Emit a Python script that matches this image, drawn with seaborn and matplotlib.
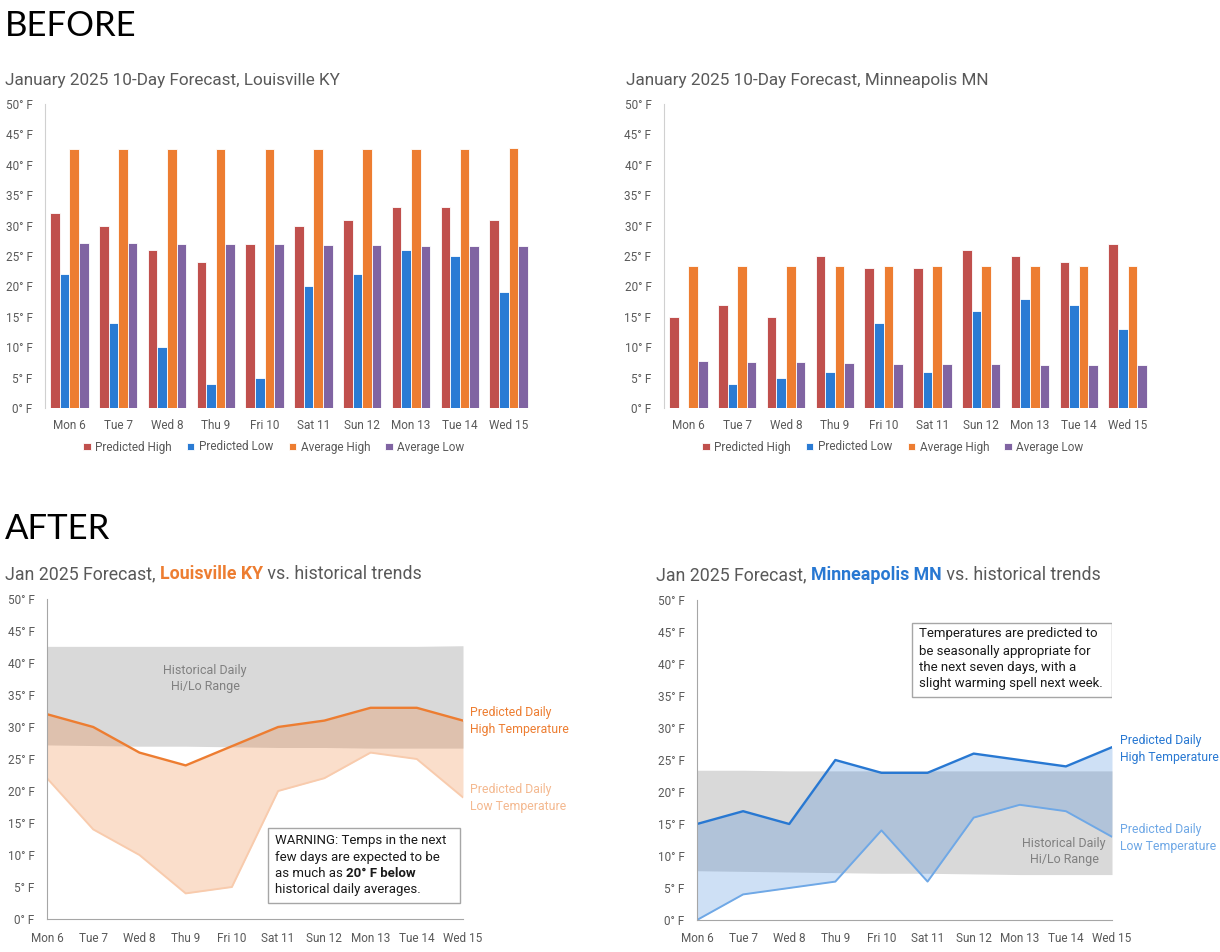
import numpy as np
import pandas as pd
import seaborn as sns
import matplotlib.pyplot as plt
from matplotlib.patches import Rectangle

# Data
days = ['Mon 6', 'Tue 7', 'Wed 8', 'Thu 9', 'Fri 10', 'Sat 11', 'Sun 12', 'Mon 13', 'Tue 14', 'Wed 15']
series = ['Predicted High', 'Predicted Low', 'Average High', 'Average Low']

lou_pred_high = [32, 30, 26, 24, 27, 30, 31, 33, 33, 31]
lou_pred_low = [22, 14, 10, 4, 5, 20, 22, 26, 25, 19]
lou_avg_high = [42.6, 42.6, 42.6, 42.6, 42.6, 42.6, 42.6, 42.6, 42.6, 42.7]
lou_avg_low = [27.2, 27.1, 27.0, 27.0, 26.9, 26.8, 26.8, 26.7, 26.7, 26.7]

msp_pred_high = [15, 17, 15, 25, 23, 23, 26, 25, 24, 27]
msp_pred_low = [0, 4, 5, 6, 14, 6, 16, 18, 17, 13]
msp_avg_high = [23.4, 23.4, 23.3, 23.3, 23.3, 23.3, 23.3, 23.3, 23.3, 23.3]
msp_avg_low = [7.7, 7.6, 7.5, 7.4, 7.3, 7.3, 7.2, 7.1, 7.1, 7.1]

y_ticks = list(range(0, 51, 5))
y_labels = [f'{v}° F' for v in y_ticks]

bar_colors = ['#C0504D', '#2A7BD4', '#ED7D31', '#8064A2']
GRAY_TXT = '#595959'

sns.set_style('white')
plt.rcParams['font.family'] = ['Roboto', 'DejaVu Sans']

W, H = 1220, 952
fig = plt.figure(figsize=(W / 100, H / 100), dpi=100)


def fig_xy(x, y):
    return x / W, 1 - y / H


def axes_px(left, top, right, bottom):
    return fig.add_axes([left / W, 1 - bottom / H, (right - left) / W, (bottom - top) / H])


def style_y(ax, color):
    ax.set_ylim(0, 50)
    ax.set_yticks(y_ticks)
    ax.set_yticklabels(y_labels)
    ax.tick_params(axis='y', direction='out', length=4, width=0.8, color=color,
                   labelsize=8.5, labelcolor=GRAY_TXT, pad=5)
    for s in ['top', 'right']:
        ax.spines[s].set_visible(False)
    ax.spines['left'].set_color(color)
    ax.set_xlabel('')
    ax.set_ylabel('')


def bar_chart(ax, high, low, avg_high, avg_low, legend_x):
    df = pd.DataFrame({
        'day': days * 4,
        'series': np.repeat(series, len(days)),
        'temp': high + low + avg_high + avg_low,
    })
    sns.barplot(data=df, x='day', y='temp', hue='series', hue_order=series,
                palette=bar_colors, width=0.79, edgecolor='white', linewidth=0.6,
                saturation=1, ax=ax)
    ax.set_xlim(-0.5, 9.5)
    style_y(ax, '#D0D0D0')
    ax.spines['bottom'].set_visible(False)
    ax.tick_params(axis='x', length=0, labelsize=8.5, labelcolor=GRAY_TXT, pad=8)
    handles, labels = ax.get_legend_handles_labels()
    ax.legend(handles, labels, loc='center', bbox_to_anchor=fig_xy(legend_x, 447),
              bbox_transform=fig.transFigure, ncol=4, frameon=False, fontsize=8.5,
              labelcolor=GRAY_TXT, handlelength=0.6, handleheight=0.6,
              handletextpad=0.4, columnspacing=1.3)


def range_chart(ax, high, low, avg_high, avg_low, c_high, c_low, c_fill):
    x = np.arange(len(days))
    ax.fill_between(x, avg_low, avg_high, color='#D9D9D9', lw=0)
    ax.fill_between(x, low, high, color=c_fill, alpha=0.25, lw=0)
    sns.lineplot(x=x, y=low, color=c_low, lw=1.4, ax=ax)
    sns.lineplot(x=x, y=high, color=c_high, lw=1.7, ax=ax)
    ax.set_xlim(0, len(days) - 1)
    ax.set_xticks(x)
    ax.set_xticklabels(days)
    style_y(ax, '#A6A6A6')
    ax.spines['bottom'].set_color('#A6A6A6')
    ax.tick_params(axis='x', direction='out', length=5, width=0.8, color='#A6A6A6',
                   labelsize=8.5, labelcolor=GRAY_TXT, pad=4)


def chained_text(ax, x, y, parts, size):
    prev = fig.text(*fig_xy(x, y), parts[0][0], color=parts[0][1], fontweight=parts[0][2],
                    fontsize=size, va='center', ha='left')
    for txt, color, weight in parts[1:]:
        prev = ax.annotate(txt, xy=(1, 0), xycoords=prev, va='bottom', ha='left',
                           color=color, fontweight=weight, fontsize=size)
    return prev


# Section headers
fig.text(*fig_xy(5, 36), 'BEFORE', fontsize=25, family='Lato', color='black', va='baseline')
fig.text(*fig_xy(5, 539), 'AFTER', fontsize=25, family='Lato', color='black', va='baseline')

# ---- BEFORE: grouped bar charts ----
ax1 = axes_px(45, 104, 533, 408)
bar_chart(ax1, lou_pred_high, lou_pred_low, lou_avg_high, lou_avg_low, 274)
fig.text(*fig_xy(5, 81), 'January 2025 10-Day Forecast, Louisville KY', fontsize=12.3,
         color=GRAY_TXT, va='center')

ax2 = axes_px(664, 104, 1152, 408)
bar_chart(ax2, msp_pred_high, msp_pred_low, msp_avg_high, msp_avg_low, 893)
fig.text(*fig_xy(626, 81), 'January 2025 10-Day Forecast, Minneapolis MN', fontsize=12.3,
         color=GRAY_TXT, va='center')

# ---- AFTER: range charts ----
ax3 = axes_px(47, 599, 463, 919)
range_chart(ax3, lou_pred_high, lou_pred_low, lou_avg_high, lou_avg_low,
            '#ED7D31', '#F8CBAD', '#ED7D31')
chained_text(ax3, 5, 574, [('Jan 2025 Forecast, ', GRAY_TXT, 'normal'),
                           ('Louisville KY', '#ED7D31', 'bold'),
                           (' vs. historical trends', GRAY_TXT, 'normal')], 12.8)
lbl = dict(fontsize=8.8, va='center', ha='left', linespacing=1.35)
ax3.text(1.017, 30.9, 'Predicted Daily\nHigh Temperature', color='#ED7D31',
         transform=ax3.get_yaxis_transform(), **lbl)
ax3.text(1.017, 18.9, 'Predicted Daily\nLow Temperature', color='#F4B990',
         transform=ax3.get_yaxis_transform(), **lbl)
ax3.text(3.42, 37.6, 'Historical Daily\nHi/Lo Range', color='#808080', fontsize=9,
         ha='center', va='center', linespacing=1.35)

ax3.add_patch(Rectangle((0.531, 0.05), 0.462, 0.234, transform=ax3.transAxes,
                        facecolor='white', edgecolor='#A6A6A6', lw=1, zorder=5))
warn = dict(fontsize=9.5, color='#1A1A1A', va='center', ha='left', zorder=6,
            transform=ax3.transAxes)
ax3.text(0.548, 0.244, 'WARNING: Temps in the next', **warn)
ax3.text(0.548, 0.191, 'few days are expected to be', **warn)
t = ax3.text(0.548, 0.141, 'as much as ', **warn)
ax3.annotate('20° F below', xy=(1, 0), xycoords=t, va='bottom', ha='left',
             fontsize=9.5, fontweight='bold', color='#1A1A1A', zorder=6)
ax3.text(0.548, 0.091, 'historical daily averages.', **warn)

ax4 = axes_px(697, 600, 1112, 920)
range_chart(ax4, msp_pred_high, msp_pred_low, msp_avg_high, msp_avg_low,
            '#2878D2', '#6FA8E6', '#3D85D9')
chained_text(ax4, 656, 575, [('Jan 2025 Forecast, ', GRAY_TXT, 'normal'),
                             ('Minneapolis MN', '#2878D2', 'bold'),
                             (' vs. historical trends', GRAY_TXT, 'normal')], 12.8)
ax4.text(1.019, 26.7, 'Predicted Daily\nHigh Temperature', color='#2878D2',
         transform=ax4.get_yaxis_transform(), **lbl)
ax4.text(1.019, 12.8, 'Predicted Daily\nLow Temperature', color='#6FA8E6',
         transform=ax4.get_yaxis_transform(), **lbl)
ax4.text(7.96, 10.7, 'Historical Daily\nHi/Lo Range', color='#808080', fontsize=9,
         ha='center', va='center', linespacing=1.35)

ax4.add_patch(Rectangle((0.518, 0.697), 0.482, 0.231, transform=ax4.transAxes,
                        facecolor='white', edgecolor='#A6A6A6', lw=1, zorder=5))
info = dict(fontsize=9.5, color='#1A1A1A', va='center', ha='left', zorder=6,
            transform=ax4.transAxes)
for yy, line in zip([0.894, 0.8375, 0.7875, 0.7375],
                    ['Temperatures are predicted to', 'be seasonally appropriate for',
                     'the next seven days, with a', 'slight warming spell next week.']):
    ax4.text(0.535, yy, line, **info)

fig.savefig('out.png', dpi=100)
